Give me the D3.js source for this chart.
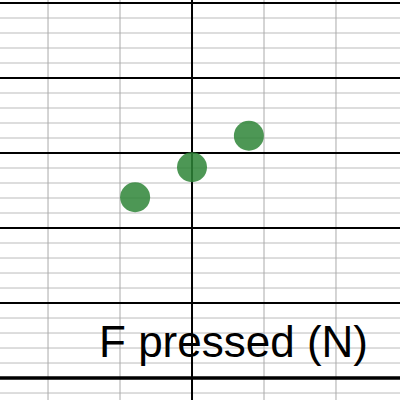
<!DOCTYPE html>
<html><head><meta charset="utf-8">
<script src="https://cdn.jsdelivr.net/npm/d3@7"></script>
<style>body{margin:0}</style></head>
<body><div id="wrapper"></div>
<script>
// data
var xVals = [-0.79, 0, 0.79];
var yVals = [2.41, 2.81, 3.23];
var axisLabel = "F pressed (N)";

var width = 400, height = 400;
var x = d3.scaleLinear().domain([-2.667, 2.889]).range([0, width]);
var y = d3.scaleLinear().domain([-0.293, 5.04]).range([height, 0]);

var svg = d3.select("#wrapper").append("svg")
    .attr("width", width).attr("height", height);

// minor horizontal lines
svg.selectAll("line.minor")
    .data(d3.range(-0.2, 5.05, 0.2).filter(function(d) { return Math.abs(d - Math.round(d)) > 0.01; }))
    .enter().append("line")
    .attr("x1", 0).attr("x2", width)
    .attr("y1", function(d) { return y(d); }).attr("y2", function(d) { return y(d); })
    .attr("stroke", "#bbb").attr("stroke-width", 1);

// vertical lines
svg.selectAll("line.vert")
    .data(d3.range(-2, 3, 1))
    .enter().append("line")
    .attr("y1", 0).attr("y2", height)
    .attr("x1", function(d) { return x(d); }).attr("x2", function(d) { return x(d); })
    .attr("stroke", function(d) { return d === 0 ? "#000" : "#aaa"; })
    .attr("stroke-width", function(d) { return d === 0 ? 2 : 1; });

// major horizontal lines
svg.selectAll("line.major")
    .data(d3.range(0, 6, 1))
    .enter().append("line")
    .attr("x1", 0).attr("x2", width)
    .attr("y1", function(d) { return y(d); }).attr("y2", function(d) { return y(d); })
    .attr("stroke", "#000")
    .attr("stroke-width", function(d) { return d === 0 ? 3.5 : 2; });

svg.selectAll("circle")
    .data(xVals)
    .enter().append("circle")
    .attr("cx", function(d) { return x(d); })
    .attr("cy", function(d, i) { return y(yVals[i]); })
    .attr("r", 15)
    .attr("fill", "#2e8537").attr("fill-opacity", 0.85);

svg.append("text")
    .attr("x", 368).attr("y", 357)
    .attr("text-anchor", "end")
    .style("font-family", "Liberation Sans, Arial, sans-serif")
    .style("font-size", "44px")
    .text(axisLabel);
</script></body></html>
